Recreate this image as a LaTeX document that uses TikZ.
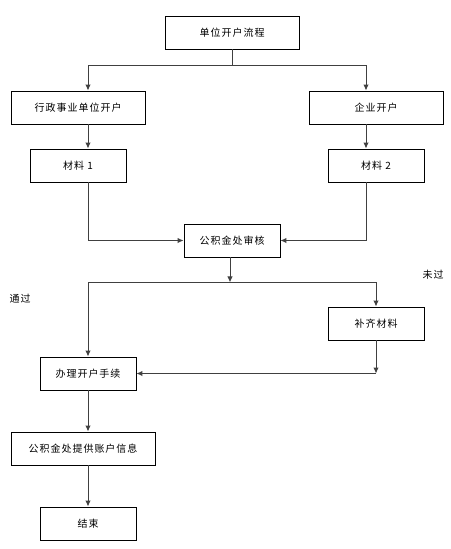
\documentclass[tikz,border=0pt]{standalone}
\usepackage{fontspec}
\setmainfont{Noto Sans CJK SC}
\usetikzlibrary{arrows.meta}

\begin{document}
\begin{tikzpicture}[x=1pt, y=-1pt,
    box/.style={draw=black, rectangle, line width=0.9pt, minimum height=33pt, inner sep=0pt,
      font=\fontsize{10}{12}\selectfont\addfontfeature{LetterSpace=10}},
    wide/.style={box, minimum width=134pt},
    narrow/.style={box, minimum width=96pt},
    link/.style={draw=black!75, line width=1pt},
    arr/.style={link, -{Latex[length=6pt, width=5.5pt]}},
    lbl/.style={font=\fontsize{10}{12}\selectfont\addfontfeature{LetterSpace=10}}]
  \useasboundingbox (0,0) rectangle (450,549);

  % Boxes
  \node[wide] (start) at (232,32.5) {单位开户流程};
  \node[wide] (gov) at (78,107.5) {行政事业单位开户};
  \node[wide] (firm) at (376,107.5) {企业开户};
  \node[narrow] (doc1) at (78,165.5) {材料 1};
  \node[narrow] (doc2) at (376,165.5) {材料 2};
  \node[narrow] (check) at (232,240.5) {公积金处审核};
  \node[narrow] (supply) at (376,323.5) {补齐材料};
  \node[narrow] (handle) at (88,373.5) {办理开户手续};
  \node[box, minimum width=144pt] (info) at (83,448.5) {公积金处提供账户信息};
  \node[narrow] (finish) at (88,523.5) {结束};

  % Labels
  \node[lbl] (fail) at (433,275) {未过};
  \node[lbl] (pass) at (20,299) {通过};

  % Split to both kinds of units
  \draw[link] (start.south) -- ++(0,16.5) coordinate (split);
  \draw[arr] (split) -| ([xshift=10pt]gov.north);
  \draw[arr] (split) -| ([xshift=-10pt]firm.north);

  % Materials
  \draw[arr] ([xshift=10pt]gov.south) -- ([xshift=10pt]doc1.north);
  \draw[arr] ([xshift=-10pt]firm.south) -- ([xshift=-10pt]doc2.north);
  \draw[arr] ([xshift=10pt]doc1.south) |- (check.west);
  \draw[arr] ([xshift=-10pt]doc2.south) |- (check.east);

  % Result of the check
  \draw[arr] ([xshift=-2pt]check.south) -- ++(0,25) coordinate (fork);
  \draw[arr] (fork) -| (handle.north);
  \draw[arr] (fork) -| (supply.north);
  \draw[arr] (supply.south) -- (supply.south |- handle.east) coordinate (back);
  \draw[arr] (back) -- (handle.east);

  % End
  \draw[arr] (handle.south) -- ([xshift=5pt]info.north);
  \draw[arr] ([xshift=5pt]info.south) -- (finish.north);
\end{tikzpicture}
\end{document}
